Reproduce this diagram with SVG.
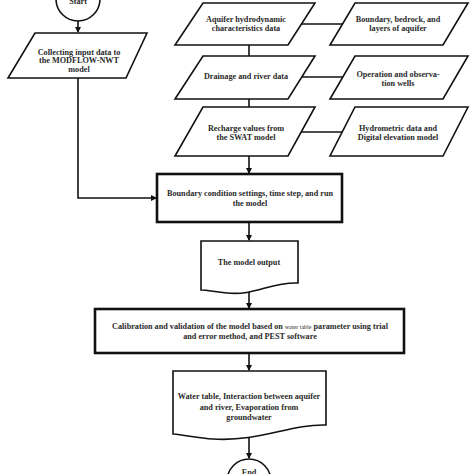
<svg xmlns="http://www.w3.org/2000/svg" width="474" height="474" viewBox="0 0 474 474">
<defs>
<marker id="ah" markerWidth="6" markerHeight="6" refX="5" refY="3" orient="auto" markerUnits="userSpaceOnUse">
<path d="M0,0 L6,3 L0,6 Z" fill="#111"/>
</marker>
</defs>
<style>
.sh{fill:#fff;stroke:#111;stroke-width:1.6;stroke-linejoin:miter}
.bx{fill:#fff;stroke:#111;stroke-width:2.6}
.cn{fill:none;stroke:#111;stroke-width:1.6}
text{font-family:"Liberation Serif","Times New Roman",serif;font-weight:bold;font-size:8.2px;fill:#2a2a2a;text-anchor:middle}
.sm{font-size:6px;font-weight:normal}
</style>
<rect width="474" height="474" fill="#fff"/>
<g id="connectors">
<line class="cn" x1="78" y1="21" x2="78" y2="32" marker-end="url(#ah)"/>
<polyline class="cn" points="78,78 78,198 156,198" marker-end="url(#ah)"/>
<line class="cn" x1="300" y1="24" x2="343" y2="24"/>
<line class="cn" x1="300" y1="77" x2="343" y2="77"/>
<line class="cn" x1="300" y1="132" x2="343" y2="132"/>
<line class="cn" x1="249" y1="45" x2="249" y2="56"/>
<line class="cn" x1="249" y1="99" x2="249" y2="107"/>
<line class="cn" x1="249" y1="156" x2="249" y2="173" marker-end="url(#ah)"/>
<line class="cn" x1="249" y1="223" x2="249" y2="240" marker-end="url(#ah)"/>
<line class="cn" x1="249" y1="291" x2="249" y2="308" marker-end="url(#ah)"/>
<line class="cn" x1="249" y1="354" x2="249" y2="370" marker-end="url(#ah)"/>
<line class="cn" x1="249" y1="437" x2="249" y2="458" marker-end="url(#ah)"/>
</g>
<g id="start">
<circle class="sh" cx="78" cy="-1" r="22" stroke-width="2"/>
<text x="78" y="4">Start</text>
</g>
<g id="collect">
<polygon class="sh" points="35,33 147,33 126,78 8,78"/>
<text x="79" y="55">Collecting input data to</text>
<text x="79" y="63">the MODFLOW-NWT</text>
<text x="79" y="72">model</text>
</g>
<g id="aquifer">
<polygon class="sh" points="203,3 315,3 288,45 175,45"/>
<text x="246" y="22">Aquifer hydrodynamic</text>
<text x="246" y="31">characteristics data</text>
</g>
<g id="boundary">
<polygon class="sh" points="355,3 468,3 443,45 330,45"/>
<text x="398" y="22">Boundary, bedrock, and</text>
<text x="398" y="31">layers of aquifer</text>
</g>
<g id="drainage">
<polygon class="sh" points="203,56 315,56 288,99 175,99"/>
<text x="246" y="79">Drainage and river data</text>
</g>
<g id="wells">
<polygon class="sh" points="355,56 468,56 443,99 330,99"/>
<text x="398" y="77">Operation and observa-</text>
<text x="398" y="86">tion wells</text>
</g>
<g id="recharge">
<polygon class="sh" points="203,107 315,107 288,156 175,156"/>
<text x="246" y="131">Recharge values from</text>
<text x="246" y="140">the SWAT model</text>
</g>
<g id="hydrometric">
<polygon class="sh" points="355,107 468,107 443,156 330,156"/>
<text x="398" y="131">Hydrometric data and</text>
<text x="398" y="140">Digital elevation model</text>
</g>
<g id="run">
<rect class="bx" x="157" y="174" width="185" height="48"/>
<text x="250" y="196">Boundary condition settings, time step, and run</text>
<text x="250" y="206">the model</text>
</g>
<g id="output">
<path class="sh" d="M201,241 H298 V283 C270,282 255,296 227,293 C215,292 208,290 201,290 Z" stroke-width="1.8"/>
<text x="249" y="265">The model output</text>
</g>
<g id="calibration">
<rect class="bx" x="95" y="309" width="309" height="44"/>
<text x="250" y="329">Calibration and validation of the model based on <tspan class="sm">water table</tspan> parameter using trial</text>
<text x="250" y="339">and error method, and PEST software</text>
</g>
<g id="results">
<path class="sh" d="M173,371 H326 V425 C290,424 260,442 213,439 C198,438 185,435 173,434 Z" stroke-width="1.8"/>
<text x="249" y="399">Water table,  Interaction between aquifer</text>
<text x="249" y="410">and river, Evaporation from</text>
<text x="249" y="420">groundwater</text>
</g>
<g id="end">
<circle class="sh" cx="249" cy="481" r="22" stroke-width="2"/>
<text x="249" y="475">End</text>
</g>
</svg>
